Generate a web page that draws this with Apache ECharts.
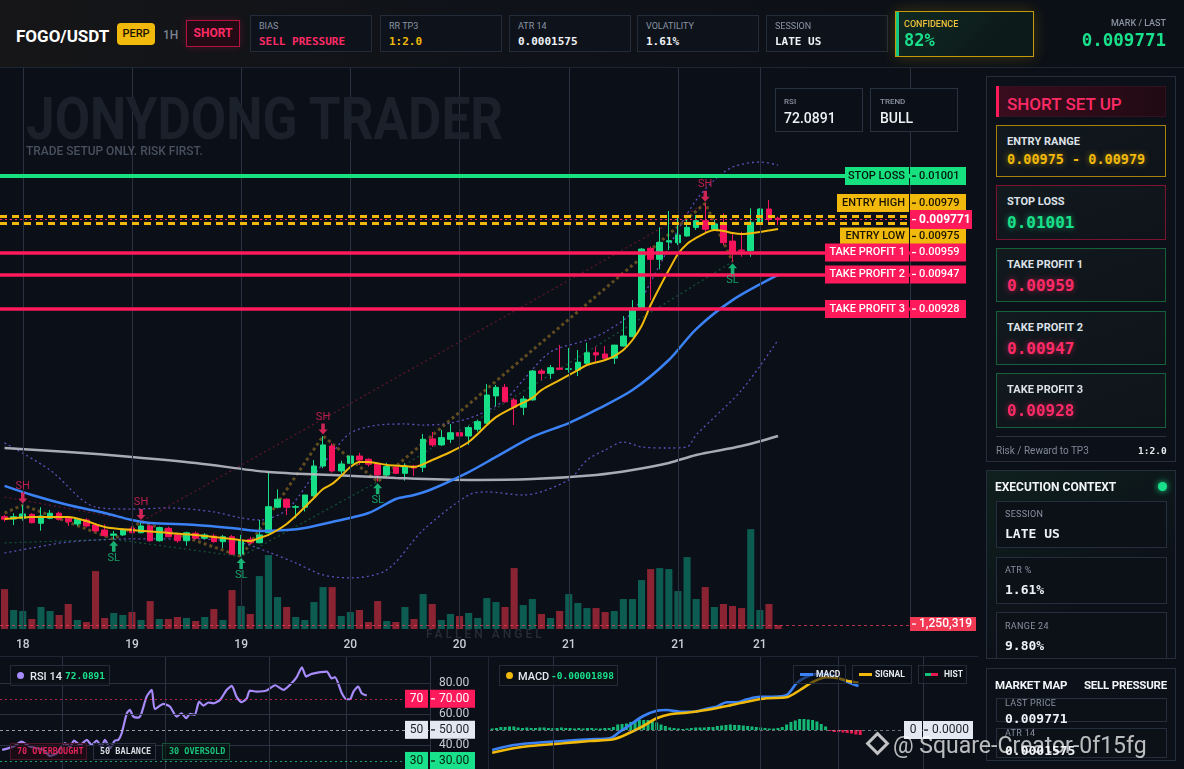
<!DOCTYPE html>
<html><head><meta charset="utf-8">
<script src="https://cdn.jsdelivr.net/npm/echarts@6.0.0/dist/echarts.min.js"></script>
<style>
*{margin:0;padding:0;box-sizing:border-box}
html,body{width:1184px;height:769px;overflow:hidden;background:#0b0f17;font-family:Roboto,"Noto Sans",sans-serif;color:#e6e9ef}
#chart{position:absolute;left:0;top:0;width:1184px;height:769px}
.a{position:absolute;white-space:nowrap;line-height:1}
.mono{font-family:"DejaVu Sans Mono",monospace;font-weight:bold}
.stat{position:absolute;top:15px;width:122px;height:37px;border:1px solid #242c39;background:#0e131b}
.stat .l{position:absolute;left:8px;top:6px;font-size:9px;color:#8a93a3;line-height:1}
.stat .v{position:absolute;left:8px;top:20px;font-size:11px;line-height:1}
.card{position:absolute;left:996px;width:170px;background:linear-gradient(160deg,#121a1e,#0e131a)}
.card .l{position:absolute;left:10px;font:bold 11px Roboto;color:#dde1e8;line-height:1}
.card .v{position:absolute;left:10px;line-height:1}
.sub{position:absolute;left:996px;width:171px;border:1px solid #252e3c;background:#0c1118}
.sub .l{position:absolute;left:8px;font-size:9px;color:#8891a0;line-height:1;letter-spacing:.3px}
.sub .v{position:absolute;left:8px;font-size:13px;color:#eef1f5;line-height:1}
.lg{position:absolute;height:19px;border:1px solid #242c39;background:rgba(11,15,23,.55);font:bold 8.5px Roboto;color:#e6e9ef;line-height:17px}
</style></head>
<body>
<div id="chart"></div>

<!-- header -->
<div class="a" style="left:0;top:0;width:1184px;height:68px;background:linear-gradient(90deg,#161618 0%,#0f1218 40%,#0b0f16 100%);border-bottom:1px solid #1f2633"></div>
<div class="a" style="left:16px;top:25.5px;font:bold 17px Roboto;color:#fff">FOGO/USDT</div>
<div class="a" style="left:117px;top:23px;width:38px;height:22px;background:#f0b90b;border-radius:4px;color:#1a1300;font:500 11px Roboto;line-height:22px;text-align:center">PERP</div>
<div class="a" style="left:163px;top:28px;color:#7a8290;font:500 12px Roboto">1H</div>
<div class="a" style="left:186px;top:20px;width:54px;height:27px;border:1px solid #b3123f;background:#220b14;color:#ff2a66;font:bold 12px Roboto;line-height:25px;text-align:center;box-shadow:0 0 8px rgba(255,30,90,.2)">SHORT</div>
<div class="stat" style="left:250px"><div class="l">BIAS</div><div class="v mono" style="color:#ff2a66">SELL PRESSURE</div></div>
<div class="stat" style="left:380px"><div class="l">RR TP3</div><div class="v mono" style="color:#f0b90b">1:2.0</div></div>
<div class="stat" style="left:509px"><div class="l">ATR 14</div><div class="v mono" style="color:#eef1f5">0.0001575</div></div>
<div class="stat" style="left:637px"><div class="l">VOLATILITY</div><div class="v mono" style="color:#eef1f5">1.61%</div></div>
<div class="stat" style="left:766px"><div class="l">SESSION</div><div class="v mono" style="color:#eef1f5">LATE US</div></div>
<div class="a" style="left:895px;top:11px;width:139px;height:46px;border:1px solid #c39a0a;background:linear-gradient(135deg,#0f2a22,#0d1a1a 70%);box-shadow:0 0 14px rgba(240,185,11,.22)"></div>
<div class="a" style="left:896px;top:12px;width:3px;height:44px;background:#16c784"></div>
<div class="a" style="left:904px;top:19px;font:500 9px Roboto;color:#f0c23c">CONFIDENCE</div>
<div class="a mono" style="left:904px;top:32px;font-size:17px;color:#19e08a">82%</div>
<div class="a" style="right:18px;top:17.5px;font:500 9px Roboto;color:#8a93a3;text-align:right">MARK / LAST</div>
<div class="a mono" style="right:18px;top:31.5px;font-size:17.5px;color:#19e08a;text-align:right">0.009771</div>

<!-- chart overlays -->
<div class="a fit" data-w="477" style="left:26px;top:84px;font:bold 59px Roboto;color:#1b212b;transform-origin:left center">JONYDONG TRADER</div>
<div class="a fit" data-w="177" style="left:26px;top:142.5px;font:500 12.5px Roboto;color:#48515f;transform-origin:left center">TRADE SETUP ONLY. RISK FIRST.</div>
<div class="a" style="left:775px;top:88px;width:88px;height:44px;border:1px solid #283140;background:#0b0f17"></div>
<div class="a" style="left:784px;top:97px;font:500 8px Roboto;color:#8a93a3">RSI</div>
<div class="a" style="left:784px;top:110px;font:500 14px Roboto;color:#eef1f5">72.0891</div>
<div class="a" style="left:870px;top:88px;width:88px;height:44px;border:1px solid #283140;background:#0b0f17"></div>
<div class="a" style="left:880px;top:97px;font:500 8px Roboto;color:#8a93a3">TREND</div>
<div class="a" style="left:880px;top:110px;font:500 14px Roboto;color:#eef1f5">BULL</div>
<div class="a" style="left:426px;top:627px;font:500 12px Roboto;color:#262d38;letter-spacing:3px">FALLEN ANGEL</div>
<div class="a" style="left:0;top:656px;width:978px;height:1px;background:#1f2633"></div>
<div class="a" style="left:488px;top:657px;width:1px;height:112px;background:#1f2633"></div>

<!-- RSI legends -->
<div class="a" style="left:10px;top:665px;width:100px;height:21px;border:1px solid #242c39;background:rgba(11,15,23,.7)"></div>
<div class="a" style="left:17px;top:672px;width:7px;height:7px;border-radius:50%;background:#a78bfa"></div>
<div class="a" style="left:30px;top:670px;font:500 11px Roboto;color:#e6e9ef">RSI 14</div>
<div class="a mono" style="left:65px;top:671px;font-size:9.5px;color:#19e08a">72.0891</div>
<div class="a mono" style="left:10px;top:743px;width:77px;height:17px;border:1px solid #4a1526;background:rgba(40,10,20,.55);font-size:8.5px;color:#e0245a;line-height:15px;padding-left:6px">70 OVERBOUGHT</div>
<div class="a mono" style="left:93px;top:743px;width:63px;height:17px;border:1px solid #2a3140;background:rgba(11,15,23,.55);font-size:8.5px;color:#d8dce4;line-height:15px;padding-left:6px">50 BALANCE</div>
<div class="a mono" style="left:162px;top:743px;width:68px;height:17px;border:1px solid #17503a;background:rgba(8,25,18,.55);font-size:8.5px;color:#19c27a;line-height:15px;padding-left:6px">30 OVERSOLD</div>

<!-- MACD legends -->
<div class="a" style="left:499px;top:665px;width:119px;height:21px;border:1px solid #242c39;background:rgba(11,15,23,.7)"></div>
<div class="a" style="left:506px;top:672px;width:7px;height:7px;border-radius:50%;background:#f0b90b"></div>
<div class="a" style="left:518px;top:670px;font:500 11px Roboto;color:#e6e9ef">MACD</div>
<div class="a mono" style="left:551px;top:671px;font-size:9.5px;color:#19e08a">-0.00001898</div>
<div class="lg" style="left:793px;top:665px;width:53px"><span class="a" style="left:6px;top:7px;width:13px;height:3px;background:#3b82f6"></span><span style="margin-left:22px">MACD</span></div>
<div class="lg" style="left:852px;top:665px;width:60px"><span class="a" style="left:6px;top:7px;width:13px;height:3px;background:#f0b90b"></span><span style="margin-left:22px">SIGNAL</span></div>
<div class="lg" style="left:918px;top:665px;width:49px"><span class="a" style="left:6px;top:7px;width:6px;height:3px;background:#13c27a"></span><span class="a" style="left:12px;top:7px;width:7px;height:3px;background:#e8194f"></span><span style="margin-left:25px">HIST</span></div>

<!-- right panel -->
<div class="a" style="left:986px;top:76px;width:190px;height:386px;border:1px solid #252e3d;background:#0c1119"></div>
<div class="a" style="left:996px;top:86px;width:170px;height:31px;background:linear-gradient(90deg,#3a0d1e,#200a13);border:1px solid #34111e"></div>
<div class="a" style="left:996px;top:86px;width:3px;height:31px;background:#ff1a5c"></div>
<div class="a" style="left:1007px;top:93.5px;font:500 17px Roboto;color:#ff2a66">SHORT SET UP</div>
<div class="card" style="top:125px;height:52px;border:1px solid #a8830c"><div class="l" style="top:9.5px">ENTRY RANGE</div><div class="v mono" style="top:26.5px;font-size:13.5px;color:#f0b90b;text-shadow:0 0 6px rgba(240,185,11,.55)">0.00975 - 0.00979</div></div>
<div class="card" style="top:185px;height:55px;border:1px solid #7a1430"><div class="l" style="top:9.5px">STOP LOSS</div><div class="v mono" style="top:29px;font-size:16px;color:#19e08a;text-shadow:0 0 6px rgba(25,224,138,.55)">0.01001</div></div>
<div class="card" style="top:248px;height:54px;border:1px solid #17603c"><div class="l" style="top:9.5px">TAKE PROFIT 1</div><div class="v mono" style="top:28.5px;font-size:16px;color:#ff2a66;text-shadow:0 0 6px rgba(255,42,102,.55)">0.00959</div></div>
<div class="card" style="top:311px;height:54px;border:1px solid #17603c"><div class="l" style="top:9.5px">TAKE PROFIT 2</div><div class="v mono" style="top:29px;font-size:16px;color:#ff2a66;text-shadow:0 0 6px rgba(255,42,102,.55)">0.00947</div></div>
<div class="card" style="top:373px;height:55px;border:1px solid #17603c"><div class="l" style="top:9.5px">TAKE PROFIT 3</div><div class="v mono" style="top:28.5px;font-size:16px;color:#ff2a66;text-shadow:0 0 6px rgba(255,42,102,.55)">0.00928</div></div>
<div class="a" style="left:996px;top:436px;width:170px;height:1px;background:#2a3342"></div>
<div class="a" style="left:996px;top:445px;font:10px Roboto;color:#7f8897">Risk / Reward to TP3</div>
<div class="a mono" style="left:1138px;top:446px;font-size:9.5px;color:#e6e9ef">1:2.0</div>

<div class="a" style="left:986px;top:470px;width:190px;height:189px;border:1px solid #252e3d;background:linear-gradient(150deg,#0f201d,#0c1119 65%);overflow:hidden">
</div>
<div class="a" style="left:995px;top:480px;font:bold 12px Roboto;color:#f2f4f7">EXECUTION CONTEXT</div>
<div class="a" style="left:1158px;top:482px;width:9px;height:9px;border-radius:50%;background:#19e08a;box-shadow:0 0 6px #19e08a"></div>
<div class="sub" style="top:501px;height:47px"><div class="l" style="top:8px">SESSION</div><div class="v mono" style="top:25px">LATE US</div></div>
<div class="sub" style="top:557px;height:47px"><div class="l" style="top:8px">ATR %</div><div class="v mono" style="top:25px">1.61%</div></div>
<div class="sub" style="top:612px;height:47px"><div class="l" style="top:9px">RANGE 24</div><div class="v mono" style="top:26px">9.80%</div></div>

<div class="a" style="left:986px;top:668px;width:190px;height:93px;border:1px solid #252e3d;background:#0c1119"></div>
<div class="a" style="left:995px;top:678px;font:bold 11.5px Roboto;color:#f2f4f7;letter-spacing:-.2px">MARKET MAP</div>
<div class="a" style="right:17px;top:678px;font:bold 11.5px Roboto;color:#f2f4f7;letter-spacing:-.2px">SELL PRESSURE</div>
<div class="sub" style="top:698px;height:24px"><div class="l" style="top:0px">LAST PRICE</div><div class="v mono" style="top:13px">0.009771</div></div>
<div class="sub" style="top:728px;height:30px"><div class="l" style="top:0px">ATR 14</div><div class="v mono" style="top:15px">0.0001575</div></div>

<!-- watermark -->
<div class="a" style="left:869px;top:735px;width:17px;height:17px;border:3px solid rgba(255,255,255,.75);transform:rotate(45deg)"></div>
<div class="a" style="left:893px;top:732px;font:23px Roboto;color:rgba(255,255,255,.72)">@ Square-Creator-0f15fg</div>

<script>
// ---------------- data ----------------
const tickIndex = [2, 14, 26, 38, 50, 62, 74, 83];
const tickLabels = ['18', '19', '19', '20', '20', '21', '21', '21'];
const subTickIndex = [14, 38, 62, 80];

// [open, close, low, high]
const candles = [
 [0.008140,0.008126,0.008113,0.008149],[0.008127,0.008140,0.008094,0.008159],[0.008131,0.008155,0.008118,0.008204],
 [0.008153,0.008107,0.008104,0.008159],[0.008104,0.008144,0.008063,0.008192],[0.008131,0.008159,0.008126,0.008177],
 [0.008159,0.008126,0.008118,0.008168],[0.008131,0.008113,0.008089,0.008140],[0.008100,0.008126,0.008089,0.008131],
 [0.008122,0.008089,0.008082,0.008131],[0.008095,0.008062,0.008058,0.008104],[0.008067,0.008036,0.008030,0.008098],
 [0.008038,0.008045,0.008016,0.008062],[0.008040,0.008067,0.008034,0.008076],[0.008076,0.008052,0.008049,0.008085],
 [0.008052,0.008089,0.008049,0.008113],[0.008089,0.008008,0.008003,0.008095],[0.008008,0.008080,0.008003,0.008085],
 [0.008076,0.008030,0.008027,0.008085],[0.008040,0.008008,0.007997,0.008049],[0.008008,0.008052,0.007981,0.008058],
 [0.008049,0.008022,0.008016,0.008058],[0.008022,0.008040,0.008016,0.008049],[0.008034,0.008003,0.007997,0.008045],
 [0.008003,0.008030,0.007967,0.008040],[0.008030,0.007935,0.007930,0.008040],[0.007935,0.008008,0.007921,0.008040],
 [0.008016,0.007997,0.007990,0.008030],[0.007997,0.008040,0.007994,0.008122],[0.008052,0.008195,0.008049,0.008382],
 [0.008192,0.008236,0.008186,0.008290],[0.008236,0.008192,0.008149,0.008241],[0.008192,0.008195,0.008131,0.008204],
 [0.008192,0.008259,0.008168,0.008259],[0.008254,0.008418,0.008250,0.008451],[0.008418,0.008534,0.008406,0.008583],
 [0.008528,0.008391,0.008382,0.008543],[0.008391,0.008429,0.008369,0.008447],[0.008433,0.008473,0.008428,0.008488],
 [0.008473,0.008451,0.008424,0.008491],[0.008455,0.008428,0.008415,0.008461],[0.008429,0.008369,0.008332,0.008436],
 [0.008369,0.008415,0.008360,0.008436],[0.008411,0.008378,0.008374,0.008418],[0.008378,0.008415,0.008338,0.008433],
 [0.008418,0.008407,0.008364,0.008424],[0.008411,0.008565,0.008385,0.008594],[0.008567,0.008534,0.008523,0.008605],
 [0.008534,0.008574,0.008528,0.008616],[0.008565,0.008601,0.008545,0.008649],[0.008601,0.008583,0.008539,0.008621],
 [0.008583,0.008629,0.008534,0.008638],[0.008620,0.008662,0.008607,0.008671],[0.008653,0.008808,0.008649,0.008868],
 [0.008803,0.008850,0.008748,0.008863],[0.008850,0.008771,0.008766,0.008868],[0.008781,0.008741,0.008643,0.008792],
 [0.008741,0.008786,0.008698,0.008803],[0.008781,0.008940,0.008777,0.008945],[0.008940,0.008927,0.008890,0.008951],
 [0.008927,0.008958,0.008896,0.008973],[0.008956,0.008949,0.008945,0.009082],[0.008949,0.008952,0.008930,0.009066],
 [0.008945,0.008988,0.008912,0.009055],[0.008982,0.009040,0.008973,0.009095],[0.009040,0.009028,0.008985,0.009073],
 [0.009033,0.009010,0.009004,0.009077],[0.009010,0.009082,0.008978,0.009082],[0.009077,0.009132,0.009073,0.009242],
 [0.009128,0.009284,0.009126,0.009329],[0.009278,0.009609,0.009275,0.009615],[0.009613,0.009553,0.009329,0.009622],
 [0.009553,0.009646,0.009498,0.009728],[0.009648,0.009655,0.009604,0.009818],[0.009644,0.009686,0.009631,0.009796],
 [0.009681,0.009728,0.009677,0.009772],[0.009728,0.009765,0.009714,0.009796],[0.009765,0.009718,0.009696,0.009860],
 [0.009718,0.009747,0.009714,0.009769],[0.009741,0.009644,0.009631,0.009805],[0.009653,0.009595,0.009540,0.009699],
 [0.009604,0.009600,0.009567,0.009704],[0.009600,0.009756,0.009567,0.009833],[0.009754,0.009829,0.009752,0.009833],
 [0.009829,0.009772,0.009759,0.009878],[0.009778,0.009771,0.009741,0.009787]
];

const volumes = [
 12500000,5940000,5630000,3130000,6880000,5630000,4380000,7820000,2810000,2190000,
 18130000,3440000,5000000,4380000,5310000,2810000,8750000,3130000,3130000,3750000,
 3440000,2500000,3750000,6250000,2810000,12190000,7190000,4690000,16570000,23130000,
 10000000,6880000,3750000,2810000,8440000,13130000,13130000,4060000,5310000,5940000,
 2190000,8750000,2500000,2190000,6880000,3130000,10940000,7820000,2810000,4690000,
 4060000,5000000,3440000,9690000,8440000,6880000,19070000,7500000,9380000,4690000,
 3440000,5630000,10940000,8130000,6560000,6560000,5310000,5630000,9380000,9380000,
 15320000,18760000,19070000,18760000,11880000,22510000,9380000,13130000,6880000,7820000,
 7190000,6560000,31260000,5940000,7820000,1250319
];

const emaFast = [[0,0.008127],[3,0.008138],[7,0.008138],[9,0.008116],[11,0.008084],[14,0.008067],[18,0.008051],[21,0.008040],[23,0.008029],[25,0.008018],[27,0.008007],[28,0.008023],[29,0.008040],[30,0.008067],[31,0.008100],[32,0.008144],[33,0.008193],[34,0.008243],[35,0.008292],[36,0.008320],[37,0.008364],[38,0.008413],[39,0.008440],[40,0.008440],[42,0.008424],[44,0.008418],[45,0.008413],[47,0.008451],[49,0.008495],[51,0.008550],[53,0.008643],[54,0.008687],[56,0.008742],[58,0.008792],[59,0.008835],[61,0.008890],[63,0.008945],[64,0.008973],[66,0.009000],[67,0.009022],[68,0.009055],[69,0.009110],[70,0.009187],[71,0.009302],[72,0.009401],[73,0.009494],[74,0.009582],[75,0.009637],[76,0.009670],[77,0.009697],[78,0.009714],[79,0.009708],[80,0.009697],[81,0.009692],[83,0.009703],[85,0.009719]];
const emaSlow = [[0,0.008309],[3,0.008259],[7,0.008204],[11,0.008160],[14,0.008122],[16,0.008106],[21,0.008095],[25,0.008078],[28,0.008062],[31,0.008067],[33,0.008078],[36,0.008111],[40,0.008160],[43,0.008237],[45,0.008259],[47,0.008292],[51,0.008385],[54,0.008468],[58,0.008578],[62,0.008654],[65,0.008726],[69,0.008835],[73,0.009000],[76,0.009170],[80,0.009329],[85,0.009467]];
const smaLong = [[0,0.008517],[7,0.008495],[14,0.008468],[21,0.008435],[29,0.008385],[36,0.008369],[43,0.008353],[51,0.008342],[58,0.008347],[65,0.008369],[69,0.008396],[73,0.008435],[76,0.008479],[81,0.008528],[85,0.008583]];
const bbUpper = [[0,0.008545],[5,0.008396],[10,0.008193],[14,0.008182],[18,0.008188],[23,0.008166],[26,0.008133],[28,0.008122],[31,0.008177],[34,0.008369],[36,0.008490],[38,0.008599],[41,0.008643],[44,0.008649],[46,0.008643],[49,0.008654],[52,0.008698],[55,0.008780],[57,0.008890],[60,0.009044],[64,0.009110],[66,0.009154],[69,0.009263],[72,0.009522],[74,0.009714],[76,0.009878],[78,0.009988],[80,0.010059],[83,0.010087],[85,0.010070]];
const bbLower = [[0,0.007941],[3,0.007968],[7,0.008001],[14,0.008018],[21,0.008018],[26,0.007996],[29,0.007946],[32,0.007886],[35,0.007820],[38,0.007804],[42,0.007848],[46,0.008067],[51,0.008259],[53,0.008276],[57,0.008259],[62,0.008342],[64,0.008451],[66,0.008506],[68,0.008550],[70,0.008523],[73,0.008517],[75,0.008523],[76,0.008589],[81,0.008835],[85,0.009110]];
const zigzag = [[0,0.008160],[2,0.008204],[12,0.008016],[15,0.008113],[26,0.007921],[35,0.008583],[41,0.008332],[77,0.009860],[80,0.009540]];
const resistLine = [[0,0.008248],[15,0.008113],[77,0.009860]];
const supportLine = [[0,0.007996],[12,0.008016],[26,0.007921],[41,0.008332],[80,0.009540]];
const swingHighIdx = [2, 15, 35, 77];
const swingLowIdx = [12, 26, 41, 80];

const levelNames = ['STOP LOSS', 'ENTRY HIGH', 'ENTRY LOW', 'TAKE PROFIT 1', 'TAKE PROFIT 2', 'TAKE PROFIT 3'];
const levelValues = [0.01001, 0.00979, 0.00975, 0.00959, 0.00947, 0.00928];
const lastPrice = 0.009771;
const lastVolume = 1250319;

const rsiSeries = [[0,37.1],[2.6,39.2],[4.5,42.4],[6.5,39.2],[9.6,37.1],[11.1,33.2],[12.7,34.9],[14.6,41.4],[15.8,39.2],[16.7,43.1],[18.1,40.3],[19.7,43.5],[20.8,40.3],[22,43.1],[23.1,39.2],[23.9,43.5],[25.1,38.2],[26.2,43.1],[27,43.5],[27.8,47.8],[29,60.7],[29.7,62.8],[30.5,58.5],[31.7,57.9],[32.4,60.7],[33.6,71.4],[34.8,75.7],[35.5,63.3],[37.5,66.7],[39,65.0],[40.6,58.5],[41.7,60.7],[42.8,57.5],[43.7,60.3],[44.8,59.6],[45.8,68.2],[46.8,65.6],[48,67.6],[49.1,67.1],[50.7,69.3],[52.2,75.7],[53.4,78.3],[54.5,71.4],[55.7,67.8],[56.9,70.3],[57.6,75.3],[59.2,74.6],[61.5,75.3],[63.5,78.7],[65.4,75.7],[67.3,80.0],[68.5,83.9],[69.7,90.3],[70.7,84.3],[72,86.0],[75.5,87.5],[76.6,83.2],[77.4,83.9],[79,73.6],[80.1,69.7],[80.9,69.7],[81.7,74.6],[82.8,77.9],[83.6,73.6],[84.8,72.09]];
const rsiLevels = [70, 50, 30];
const rsiTickValues = [80, 60, 40];

// MACD values in micro-units (x 1e-6)
const macdLine = [[0,-20],[4.1,-15.7],[8.7,-13.3],[16.4,-11],[22.6,-9.3],[27.2,-8.3],[29.5,-1.7],[31.8,5],[34.9,14],[38,19.3],[40.3,20],[43.4,18.3],[46.5,18.3],[49.5,21.3],[51.8,23.3],[54.2,27.7],[56.5,27.7],[58.8,30.7],[61.9,33.3],[64.9,33.3],[68,35],[70.3,46.7],[72.6,53.3],[74.9,56],[77.2,56],[79.6,52.7],[81.9,48.3],[84.6,44]];
const signalLine = [[0,-22.7],[4.9,-18.3],[8.7,-16],[16.4,-13.3],[22.6,-11],[28,-9.3],[31.8,-2.7],[34.9,4],[38,11.7],[41.1,15.7],[44.9,17.3],[49.5,20],[54.2,24],[58.8,28.3],[63.4,31.7],[68,32.7],[71.1,40],[74.2,48.3],[77.2,52.7],[79.9,51.7],[81.9,49.3],[84.6,47.3]];
const histValues = [
 1.5,2,3,3,3.5,3.5,2.5,2,2.5,2, 2,2.5,2.5,2,2,2,2.5,2,2,1.5,
 2,1.5,2,2,1.5,1.5,2,2,3,5.5, 6,6.5,8,9,10.5,10,10,9,7.5,5.5,
 4,2.5,2,1.5,1,1.5,2,2.5,2.5,2.5, 3,3,4,4.5,5,5.5,5,5,4.5,4,
 3.5,3,2.5,2,1.5,1.5,2,3,5.5,8, 9.5,11,11,10.5,10,8.5,6,3.5,-1,-2,
 -2,-2.5,-3,-3.5,-4.5,-5
];

// ---------------- chart ----------------
const UP = '#17df87', DN = '#f5145c', VUP = '#0c5c52', VDN = '#8a2332';
const GRIDC = '#2a3242';
const cats = Array.from({length: 100}, (_, i) => 'h' + i);
const chart = echarts.init(document.getElementById('chart'));

const noAx = {show: false};
const levelMarks = [
 {yAxis: lastPrice, lineStyle: {color: '#ff2a66', width: 1, type: [2, 3]}},
 {yAxis: levelValues[0], lineStyle: {color: '#17e07f', width: 4, type: 'solid'}},
 {yAxis: levelValues[1], lineStyle: {color: '#f0b90b', width: 3, type: [7, 5]}},
 {yAxis: levelValues[2], lineStyle: {color: '#f0b90b', width: 3, type: [7, 5]}},
 {yAxis: levelValues[3], lineStyle: {color: '#ff1a5c', width: 3.5, type: 'solid'}},
 {yAxis: levelValues[4], lineStyle: {color: '#ff1a5c', width: 3.5, type: 'solid'}},
 {yAxis: levelValues[5], lineStyle: {color: '#ff1a5c', width: 3.5, type: 'solid'}}
];
function ln(data, color, width, type, z, smooth) {
 return {type: 'line', xAxisIndex: 0, yAxisIndex: 0, data, symbol: 'none', smooth: smooth === undefined ? 0.3 : smooth,
  lineStyle: {color, width, type: type || 'solid'}, z: z || 3, silent: true};
}
function ml(data) {
 return {silent: true, symbol: ['none', 'none'], precision: 8, label: {show: false}, animation: false, data};
}
const levelSeries = ln(emaFast, '#f0b90b', 2, 'solid', 4);
levelSeries.markLine = ml(levelMarks);

// vertical / horizontal grid lines as markLines on dedicated helper series
const gridMainSeries = ln(bbLower, 'rgba(118,95,230,0.8)', 1.3, [2, 3], 1);
gridMainSeries.markLine = ml(tickIndex.map(i => ({xAxis: i, lineStyle: {color: GRIDC, width: 1, type: 'solid'}})));

const option = {
 animation: false,
 backgroundColor: 'transparent',
 grid: [
  {left: 0, top: 68, width: 910, height: 560},
  {left: 0, top: 529, width: 910, height: 100},
  {left: 0, top: 657, width: 430, height: 112},
  {left: 490, top: 657, width: 433, height: 112}
 ],
 xAxis: [
  {type: 'category', gridIndex: 0, data: cats, boundaryGap: true, axisLine: noAx, axisTick: noAx, splitLine: noAx,
   axisLabel: {interval: (i) => tickIndex.includes(i), formatter: (v, i) => tickLabels[tickIndex.indexOf(i)],
    color: '#c9cdd6', fontSize: 12, fontWeight: 500, margin: 11, fontFamily: 'Roboto'}},
  {type: 'category', gridIndex: 1, data: cats, boundaryGap: true, show: false},
  {type: 'value', gridIndex: 2, min: -0.5, max: 99.5, show: false},
  {type: 'value', gridIndex: 3, min: -0.5, max: 99.5, show: false}
 ],
 yAxis: [
  {type: 'value', gridIndex: 0, min: 0.007529, max: 0.010603, position: 'right',
   axisLine: {show: true, onZero: false, lineStyle: {color: '#2a3140'}}, axisLabel: noAx, axisTick: noAx, splitLine: noAx},
  {type: 'value', gridIndex: 1, min: 0, max: 31300000, show: false},
  {type: 'value', gridIndex: 2, min: 24.8, max: 96.9, position: 'right',
   axisLine: {show: true, onZero: false, lineStyle: {color: '#2a3140'}}, axisLabel: noAx, axisTick: noAx, splitLine: noAx},
  {type: 'value', gridIndex: 3, min: -39, max: 73, position: 'right',
   axisLine: {show: true, onZero: false, lineStyle: {color: '#2a3140'}}, axisLabel: noAx, axisTick: noAx, splitLine: noAx}
 ],
 series: [
  ln(bbUpper, 'rgba(118,95,230,0.8)', 1.3, [2, 3], 1),
  gridMainSeries,
  ln(resistLine, 'rgba(190,30,70,0.45)', 1.3, [2, 3], 1, false),
  ln(supportLine, 'rgba(30,160,100,0.45)', 1.3, [2, 3], 1, false),
  ln(zigzag, 'rgba(165,125,40,0.55)', 3, [3, 3], 1, false),
  {type: 'candlestick', xAxisIndex: 0, yAxisIndex: 0, data: candles, barWidth: '68%', z: 2, silent: true,
   itemStyle: {color: UP, color0: DN, borderColor: UP, borderColor0: DN, borderWidth: 1}},
  ln(smaLong, 'rgba(185,188,198,0.9)', 2.5, 'solid', 3),
  ln(emaSlow, '#3b82f6', 2.5, 'solid', 3),
  levelSeries,
  {type: 'scatter', xAxisIndex: 0, yAxisIndex: 0, z: 5, silent: true,
   data: swingHighIdx.map(i => [i, candles[i][3]]),
   symbol: 'path://M3,0L7,0L7,6L10,6L5,11L0,6L3,6Z', symbolSize: [9, 11], symbolOffset: [0, -7],
   itemStyle: {color: '#ff2a66'},
   label: {show: true, formatter: 'SH', position: 'top', distance: 1, color: '#e8245c', fontSize: 11, fontFamily: 'Roboto'}},
  {type: 'scatter', xAxisIndex: 0, yAxisIndex: 0, z: 5, silent: true,
   data: swingLowIdx.map(i => [i, candles[i][2]]),
   symbol: 'path://M5,0L10,5L7,5L7,11L3,11L3,5L0,5Z', symbolSize: [9, 11], symbolOffset: [0, 7],
   itemStyle: {color: '#19d88a'},
   label: {show: true, formatter: 'SL', position: 'bottom', distance: 1, color: '#17c27a', fontSize: 11, fontFamily: 'Roboto'}},
  {type: 'bar', xAxisIndex: 1, yAxisIndex: 1, barWidth: '78%', silent: true, z: 1,
   data: volumes.map((v, i) => ({value: v, itemStyle: {color: candles[i][1] >= candles[i][0] ? VUP : VDN}})),
   markLine: ml([{yAxis: lastVolume, lineStyle: {color: 'rgba(255,60,90,0.7)', width: 1, type: [3, 3]}}])},
  {type: 'line', xAxisIndex: 2, yAxisIndex: 2, data: rsiSeries, symbol: 'none', smooth: 0.2, silent: true,
   lineStyle: {color: '#a78bfa', width: 2.2},
   markLine: ml([
    ...subTickIndex.map(i => ({xAxis: i, lineStyle: {color: GRIDC, width: 1, type: 'solid'}})),
    ...rsiTickValues.map(v => ({yAxis: v, lineStyle: {color: GRIDC, width: 1, type: 'solid'}})),
    {yAxis: rsiLevels[0], lineStyle: {color: 'rgba(255,42,102,0.7)', width: 1, type: [2, 3]}},
    {yAxis: rsiLevels[1], lineStyle: {color: 'rgba(210,214,222,0.7)', width: 1, type: [3, 3]}},
    {yAxis: rsiLevels[2], lineStyle: {color: 'rgba(25,224,138,0.7)', width: 1, type: [2, 3]}}
   ])},
  {type: 'bar', xAxisIndex: 3, yAxisIndex: 3, barWidth: 3, silent: true,
   data: histValues.map((v, i) => ({value: [i, v], itemStyle: {color: v >= 0 ? '#12b874' : '#e8194f'}})),
   markLine: ml([
    ...subTickIndex.map(i => ({xAxis: i, lineStyle: {color: GRIDC, width: 1, type: 'solid'}})),
    {yAxis: 0, lineStyle: {color: 'rgba(170,176,188,0.6)', width: 1, type: [3, 3]}}
   ])},
  {type: 'line', xAxisIndex: 3, yAxisIndex: 3, data: macdLine, symbol: 'none', smooth: 0.3, silent: true,
   lineStyle: {color: '#3b82f6', width: 2.6}},
  {type: 'line', xAxisIndex: 3, yAxisIndex: 3, data: signalLine, symbol: 'none', smooth: 0.3, silent: true,
   lineStyle: {color: '#f0b90b', width: 2.6}}
 ]
};
chart.setOption(option);

// ---------------- price / level tags ----------------
function box(x, y, w, h, fill) {
 return {type: 'rect', z: 100, silent: true, shape: {x, y, width: w, height: h}, style: {fill}};
}
function txt(x, y, s, fill, font, align) {
 return {type: 'text', z: 101, silent: true, x, y, style: {text: s, fill, font, textAlign: align || 'left', textVerticalAlign: 'middle'}};
}
const els = [];
const tagStyle = {
 'STOP LOSS': {bg: '#17e07f', fg: '#04140b', x0: 845, dy: 0},
 'ENTRY HIGH': {bg: '#f0b90b', fg: '#1a1300', x0: 837, dy: -13},
 'ENTRY LOW': {bg: '#f0b90b', fg: '#1a1300', x0: 840, dy: 13},
 'TAKE PROFIT 1': {bg: '#ff1a5c', fg: '#ffffff', x0: 825, dy: 0},
 'TAKE PROFIT 2': {bg: '#ff1a5c', fg: '#ffffff', x0: 825, dy: 0},
 'TAKE PROFIT 3': {bg: '#ff1a5c', fg: '#ffffff', x0: 825, dy: 0}
};
const tagFont = '500 11px Roboto';
levelNames.forEach((n, k) => {
 const s = tagStyle[n];
 const y = chart.convertToPixel({yAxisIndex: 0}, levelValues[k]) + s.dy;
 els.push(box(s.x0, y - 9, 909 - s.x0, 18, s.bg));
 els.push(box(910, y - 9, 56, 18, s.bg));
 els.push(txt(905, y, n, s.fg, tagFont, 'right'));
 els.push(box(912, y - 0.6, 4, 1.3, s.fg));
 els.push(txt(919, y, levelValues[k].toFixed(5), s.fg, tagFont));
});
{
 const y = chart.convertToPixel({yAxisIndex: 0}, lastPrice);
 els.push(box(910, y - 9.5, 62, 19, '#ff1a5c'));
 els.push(box(912, y - 0.6, 4, 1.3, '#fff'));
 els.push(txt(919, y, String(lastPrice), '#ffffff', 'bold 12px Roboto'));
}
{
 const y = chart.convertToPixel({yAxisIndex: 1}, lastVolume);
 els.push(box(910, y - 8, 66, 14, '#f23a55'));
 els.push(box(912, y - 1.6, 4, 1.3, '#fff'));
 els.push(txt(919, y - 1, lastVolume.toLocaleString('en-US'), '#ffffff', '500 12px Roboto'));
}
const rsiTagStyle = {70: {bg: '#ff1a5c', fg: '#ffffff'}, 50: {bg: '#e4e8f0', fg: '#1a1f2a'}, 30: {bg: '#19e08a', fg: '#06200f'}};
rsiLevels.forEach(L => {
 const s = rsiTagStyle[L];
 const y = chart.convertToPixel({yAxisIndex: 2}, L);
 els.push(box(405, y - 9, 23, 18, s.bg));
 els.push(txt(416.5, y, String(L), s.fg, '12px Roboto', 'center'));
 els.push(box(430, y - 9, 45, 18, s.bg));
 els.push(box(431, y - 0.6, 4, 1.3, s.fg));
 els.push(txt(439, y, L.toFixed(2), s.fg, '12px Roboto'));
});
rsiTickValues.forEach(v => {
 const y = chart.convertToPixel({yAxisIndex: 2}, v);
 els.push(txt(439, y, v.toFixed(2), '#c8ccd6', '12px Roboto'));
});
{
 const y = chart.convertToPixel({yAxisIndex: 3}, 0);
 els.push(box(904, y - 9, 18, 18, '#e4e8f0'));
 els.push(txt(913, y, '0', '#1a1f2a', '12px Roboto', 'center'));
 els.push(box(923, y - 9, 50, 18, '#e4e8f0'));
 els.push(box(924, y - 0.6, 4, 1.3, '#1a1f2a'));
 els.push(txt(932, y, (0).toFixed(4), '#1a1f2a', '12px Roboto'));
}
chart.setOption({graphic: {elements: els}});

// fit condensed texts
document.querySelectorAll('.fit').forEach(el => {
 const w = +el.dataset.w;
 el.style.transform = 'scaleX(' + (w / el.scrollWidth) + ')';
});
</script>
</body></html>
